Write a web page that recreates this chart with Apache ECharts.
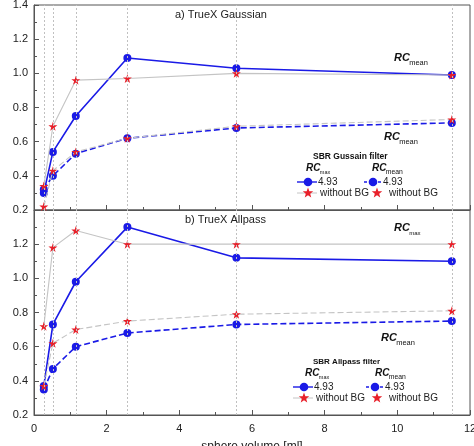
<!DOCTYPE html>
<html><head><meta charset="utf-8">
<script src="https://cdn.jsdelivr.net/npm/echarts@6/dist/echarts.min.js"></script>
<style>html,body{margin:0;padding:0;background:#fff}#c{width:474px;height:446px}</style>
</head><body><div id="c"></div>
<script>
const volumes = [0.27, 0.52, 1.15, 2.57, 5.57, 11.5];
const xTicks = [0, 2, 4, 6, 8, 10, 12];
const yTicks = [0.2, 0.4, 0.6, 0.8, 1.0, 1.2, 1.4];
// a) TrueX Gaussian
const gaussMax493 = [0.30, 0.54, 0.75, 1.09, 1.03, 0.99];
const gaussMaxNoBG = [0.34, 0.69, 0.96, 0.97, 1.00, 0.99];
const gaussMean493 = [0.32, 0.40, 0.53, 0.62, 0.68, 0.71];
const gaussMeanNoBG = [0.22, 0.43, 0.54, 0.62, 0.69, 0.73];
// b) TrueX Allpass
const allMax493 = [0.37, 0.73, 0.98, 1.30, 1.12, 1.10];
const allMaxNoBG = [0.72, 1.18, 1.28, 1.20, 1.20, 1.20];
const allMean493 = [0.35, 0.47, 0.60, 0.68, 0.73, 0.75];
const allMeanNoBG = [0.37, 0.62, 0.70, 0.75, 0.79, 0.81];

const STAR = 'path://M50,0 L61,35 L98,35 L68,57 L79,91 L50,70 L21,91 L32,57 L2,35 L39,35 Z';
const BLUE = '#1a1ae6', RED = '#e8202a', GRAY = '#c4c4c4', AX = '#555';
const FONT = 'Liberation Sans, Arial, sans-serif';

function pts(v){ return volumes.map((x,i)=>[x, v[i]]); }
function ser(idx, data, kind, dashed){
  const isBlue = kind === 'blue';
  return {
    type:'line', xAxisIndex:idx, yAxisIndex:idx, data:pts(data),
    symbol: isBlue ? 'circle' : STAR,
    symbolSize: isBlue ? 8 : 9,
    itemStyle:{color: isBlue ? BLUE : RED, borderWidth:0},
    lineStyle:{color: isBlue ? BLUE : GRAY, width: isBlue ? 1.6 : 1.1, type: dashed ? [6,3] : 'solid'},
    z: isBlue ? 3 : 4, animation:false
  };
}
function guides(idx){
  return {type:'line', xAxisIndex:idx, yAxisIndex:idx, data:[], z:1, animation:false,
    markLine:{silent:true, symbol:'none', label:{show:false},
      lineStyle:{color:'#c0c0c0', type:[2,2], width:1},
      data: volumes.map(v=>({xAxis:v})), animation:false}};
}
function xAxis(idx, showLabel){
  return {type:'value', gridIndex:idx, min:0, max:12, interval:2,
    axisLine:{show:true, lineStyle:{color:AX}},
    axisTick:{show:true, inside:true, length:5, lineStyle:{color:AX}},
    minorTick:{show:true, splitNumber:2, length:3, lineStyle:{color:AX}},
    splitLine:{show:false},
    axisLabel:{show:showLabel, color:'#222', fontSize:11, fontFamily:FONT, margin:8},
    name: showLabel ? 'sphere volume [ml]' : '', nameLocation:'middle', nameGap:26,
    nameTextStyle:{fontSize:12, fontFamily:FONT, color:'#222'}};
}
function yAxis(idx, hideTop){
  return {type:'value', gridIndex:idx, min:0.2, max:1.4, interval:0.2,
    axisLine:{show:true, lineStyle:{color:AX}},
    axisTick:{show:true, inside:true, length:5, lineStyle:{color:AX}},
    minorTick:{show:true, splitNumber:2, length:3, lineStyle:{color:AX}},
    splitLine:{show:false},
    axisLabel:{color:'#222', fontSize:11, fontFamily:FONT, margin:6,
      formatter: v => (hideTop && Math.abs(v-1.4)<1e-6) ? '' : v.toFixed(1)},
    name:'RC', nameLocation:'middle', nameGap:22,
    nameTextStyle:{fontSize:12, fontFamily:FONT, color:'#222'}};
}

function starPoints(cx, cy, r){
  const p = [];
  for (let i=0;i<10;i++){
    const a = -Math.PI/2 + i*Math.PI/5;
    const rr = i%2===0 ? r : r*0.42;
    p.push([cx + rr*Math.cos(a), cy + rr*Math.sin(a)]);
  }
  return p;
}
function txt(x, y, s, extra){
  return {type:'text', x:x, y:y, z:10, style:Object.assign({text:s, fontSize:10, fontFamily:FONT, fill:'#222', align:'left', verticalAlign:'middle'}, extra||{})};
}
// RC label with subscript; (x,y) = left / vertical centre of "RC"
function rc(x, y, sub, size){
  size = size || 12;
  const w = size * 1.38;
  return [
    txt(x, y, 'RC', {fontSize:size, fontWeight:'bold', fontStyle:'italic', fill:'#111'}),
    txt(x + w, y + size*0.45, sub, {fontSize: sub === 'max' ? size*0.55 : size*0.68, fill:'#111'})
  ];
}
function legend(L, title){
  const els = [];
  els.push(txt(L.tx, L.ty, title, {fontWeight:'bold', fontSize:L.ts, fill:'#111'}));
  els.push(...rc(L.rc1x, L.rcy, 'max', 10));
  els.push(...rc(L.rc2x, L.rcy, 'mean', 10));
  // row 1
  els.push({type:'line', z:10, shape:{x1:L.c1-11, y1:L.r1, x2:L.c1+9, y2:L.r1}, style:{stroke:BLUE, lineWidth:1.4}});
  els.push({type:'circle', z:11, shape:{cx:L.c1, cy:L.r1, r:4.3}, style:{fill:BLUE}});
  els.push(txt(L.c1+10, L.r1, '4.93'));
  els.push({type:'line', z:10, shape:{x1:L.c2-9, y1:L.r1, x2:L.c2+9, y2:L.r1}, style:{stroke:BLUE, lineWidth:1.4, lineDash:[3,4]}});
  els.push({type:'circle', z:11, shape:{cx:L.c2, cy:L.r1, r:4.3}, style:{fill:BLUE}});
  els.push(txt(L.c2+10, L.r1, '4.93'));
  // row 2
  els.push({type:'line', z:10, shape:{x1:L.c1-11, y1:L.r2, x2:L.c1+9, y2:L.r2}, style:{stroke:GRAY, lineWidth:1}});
  els.push({type:'polygon', z:11, shape:{points:starPoints(L.c1, L.r2, 5.5)}, style:{fill:RED}});
  els.push(txt(L.c1+12, L.r2, 'without BG'));
  els.push({type:'polygon', z:11, shape:{points:starPoints(L.s2, L.r2, 5.5)}, style:{fill:RED}});
  els.push(txt(L.s2+12, L.r2, 'without BG'));
  return els;
}

const chart = echarts.init(document.getElementById('c'), null, {renderer:'canvas'});
chart.setOption({
  animation:false,
  grid:[
    {left:34, right:4, top:5, height:205, show:true, borderColor:AX, borderWidth:1, backgroundColor:'transparent', containLabel:false, outerBoundsMode:'none'},
    {left:34, right:4, top:210, height:205, show:true, borderColor:AX, borderWidth:1, backgroundColor:'transparent', containLabel:false, outerBoundsMode:'none'}
  ],
  xAxis:[xAxis(0,false), xAxis(1,true)],
  yAxis:[yAxis(0,false), yAxis(1,true)],
  series:[
    guides(0), guides(1),
    ser(0, gaussMaxNoBG, 'red', false),
    ser(0, gaussMeanNoBG, 'red', true),
    ser(0, gaussMax493, 'blue', false),
    ser(0, gaussMean493, 'blue', true),
    ser(1, allMaxNoBG, 'red', false),
    ser(1, allMeanNoBG, 'red', true),
    ser(1, allMax493, 'blue', false),
    ser(1, allMean493, 'blue', true)
  ],
  graphic:[
    txt(175, 15, 'a) TrueX Gaussian', {fontSize:11}),
    txt(185, 220, 'b) TrueX Allpass', {fontSize:11}),
    ...rc(394, 58, 'mean', 11),
    ...rc(384, 137, 'mean', 11),
    ...rc(394, 228, 'max', 11),
    ...rc(381, 338, 'mean', 11),
    ...legend({tx:313, ty:157, ts:8.5, rc1x:306, rc2x:372, rcy:168, r1:182, r2:193, c1:308, c2:373, s2:377}, 'SBR Gussain filter'),
    ...legend({tx:313, ty:362, ts:8, rc1x:305, rc2x:375, rcy:373, r1:387, r2:398, c1:304, c2:375, s2:377}, 'SBR Allpass filter')
  ]
});
</script></body></html>
